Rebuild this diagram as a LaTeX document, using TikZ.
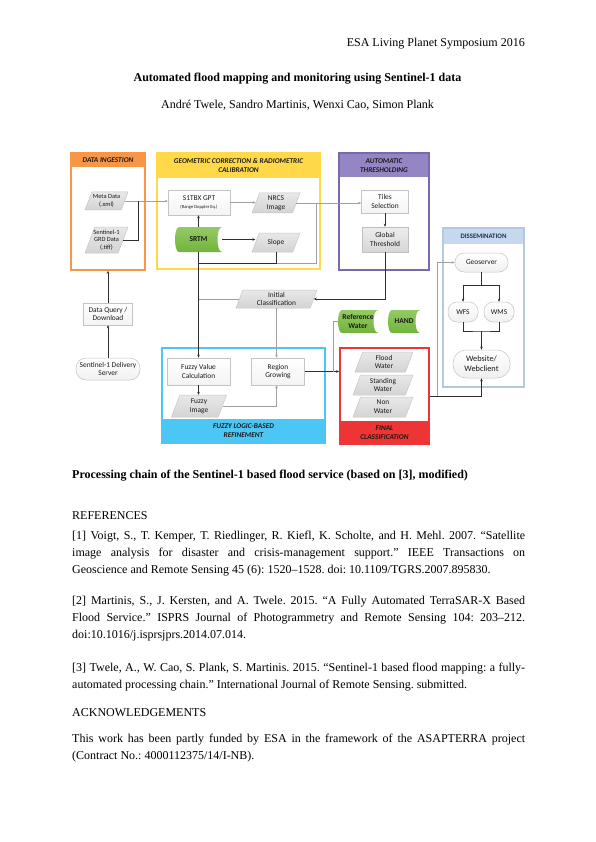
\documentclass[tikz,border=0pt]{standalone}
\usepackage{fontspec}
\setmainfont{Liberation Serif}
\newfontfamily\dfont{Carlito}
\usetikzlibrary{arrows.meta,shadows}
\frenchspacing
\definecolor{txtdark}{HTML}{1A1A1A}
\definecolor{ingcol}{HTML}{F79646}
\definecolor{geocol}{HTML}{FFD94A}
\definecolor{thrcol}{HTML}{9685C4}
\definecolor{thrbord}{HTML}{7B68AE}
\definecolor{discol}{HTML}{C5D8EE}
\definecolor{disbord}{HTML}{B4C8E2}
\definecolor{distxt}{HTML}{1F2F4A}
\definecolor{fuzcol}{HTML}{4CC6F5}
\definecolor{fincol}{HTML}{EE3535}
\definecolor{sdgreen}{HTML}{79BD3F}
\definecolor{boxgray}{HTML}{C4C4C4}
\definecolor{lngray}{HTML}{A0A0A0}
\definecolor{lndark}{HTML}{2E2E2E}
\tikzset{
  dtxt/.style={font=\dfont\fontsize{7.4}{8.8}\selectfont, text=txtdark, align=center, inner sep=0pt},
  hdrtxt/.style={font=\dfont\bfseries\itshape\fontsize{7.3}{9}\selectfont, text=txtdark, align=center, inner sep=0pt},
  procbox/.style={dtxt, draw=boxgray, line width=0.5pt, top color=white, bottom color=gray!9,
    drop shadow={shadow xshift=0.8pt, shadow yshift=-0.8pt, fill=black, opacity=0.2}},
  gbox/.style={dtxt, draw=gray!50, line width=0.5pt, top color=gray!14, bottom color=gray!32,
    drop shadow={shadow xshift=0.8pt, shadow yshift=-0.8pt, fill=black, opacity=0.2}},
  rndbox/.style={dtxt, draw=boxgray, line width=0.5pt, top color=white, bottom color=gray!12},
  parashape/.style={draw=gray!45, line width=0.5pt, top color=gray!18, bottom color=gray!34},
  sdshape/.style={top color=sdgreen!80!white, bottom color=sdgreen!95!black},
  sdbold/.style={font=\dfont\bfseries\fontsize{7.5}{8.8}\selectfont},
  ln/.style={draw=lndark, line width=0.6pt},
  lnl/.style={draw=lngray, line width=0.6pt},
  arr/.style={-{Stealth[length=3pt,width=2.6pt]}},
  ptext/.style={font=\fontsize{12}{17}\selectfont, inner sep=0pt, text=black},
  pbold/.style={font=\fontsize{12}{14}\selectfont\bfseries, inner sep=0pt, text=black},
  cont/.style={line width=1.6pt, fill=white, inner sep=0pt},
}
\newcommand\paranode[7][]{%
  \path[parashape] ({#3-#5/2+0.38*#6},{#4-#6/2}) -- ({#3+#5/2},{#4-#6/2}) -- ({#3+#5/2-0.38*#6},{#4+#6/2}) -- ({#3-#5/2},{#4+#6/2}) -- cycle;
  \node[dtxt,#1, minimum width={(#5-0.38*#6)*1pt}, minimum height={#6*1pt}] (#2) at (#3,#4) {#7};}
\newcommand\sdnode[7][]{%
  \path[sdshape] ({#3-#5/2+4},{#4-#6/2}) -- ({#3+#5/2},{#4-#6/2}) .. controls ({#3+#5/2-6},{#4-#6/2}) and ({#3+#5/2-6},{#4+#6/2}) .. ({#3+#5/2},{#4+#6/2}) -- ({#3-#5/2+4},{#4+#6/2}) .. controls ({#3-#5/2-1.3},{#4+#6/2}) and ({#3-#5/2-1.3},{#4-#6/2}) .. cycle;
  \node[dtxt,sdbold,#1, minimum width={#5*1pt}, minimum height={#6*1pt}] (#2) at (#3,#4) {#7};}
\begin{document}
\begin{tikzpicture}[x=1pt,y=-1pt]
\useasboundingbox (0,0) rectangle (595,842);
\fill[white] (0,0) rectangle (595,842);

% ---------- page text ----------
\node[ptext, anchor=base east] (hdr) at (525,47) {ESA Living Planet Symposium 2016};
\node[pbold, anchor=base] (title) at (297.5,82) {Automated flood mapping and monitoring using Sentinel-1 data};
\node[ptext, anchor=base] (auth) at (297.5,109) {André Twele, Sandro Martinis, Wenxi Cao, Simon Plank};
\node[pbold, anchor=base west] (cap) at (72,478) {Processing chain of the Sentinel-1 based flood service (based on [3], modified)};
\node[ptext, anchor=base west] (refs) at (72,519) {REFERENCES};
\node[ptext, anchor=north west, align=left] (r1) at (72,527.1) {\strut\makebox[453pt][s]{[1] Voigt, S., T. Kemper, T. Riedlinger, R. Kiefl, K. Scholte, and H. Mehl. 2007. “Satellite}\\\makebox[453pt][s]{image analysis for disaster and crisis-management support.” IEEE Transactions on}\\Geoscience and Remote Sensing 45 (6): 1520–1528. doi: 10.1109/TGRS.2007.895830.};
\node[ptext, anchor=north west, align=left] (r2) at (72,592.1) {\strut\makebox[453pt][s]{[2] Martinis, S., J. Kersten, and A. Twele. 2015. “A Fully Automated TerraSAR-X Based}\\\makebox[453pt][s]{Flood Service.” ISPRS Journal of Photogrammetry and Remote Sensing 104: 203–212.}\\doi:10.1016/j.isprsjprs.2014.07.014.};
\node[ptext, anchor=north west, align=left] (r3) at (72,659.1) {\strut\makebox[453pt][s]{[3] Twele, A., W. Cao, S. Plank, S. Martinis. 2015. “Sentinel-1 based flood mapping: a fully-}\\automated processing chain.” International Journal of Remote Sensing. submitted.};
\node[ptext, anchor=base west] (ack) at (72,716) {ACKNOWLEDGEMENTS};
\node[ptext, anchor=north west, align=left] (ackt) at (72,730.1) {\strut\makebox[453pt][s]{This work has been partly funded by ESA in the framework of the ASAPTERRA project}\\(Contract No.: 4000112375/14/I-NB).};

% ---------- containers ----------
\node[cont, draw=ingcol, minimum width=74pt, minimum height=117pt] (ingest) at (108,211.5) {};
\fill[ingcol] (71,153) rectangle (145,167);
\node[hdrtxt] (ingestH) at (108,160.5) {DATA INGESTION};

\node[cont, draw=geocol, minimum width=163pt, minimum height=116pt] (geo) at (238.5,211) {};
\fill[geocol] (157,153) rectangle (320,178);
\node[hdrtxt] (geoH) at (238.5,165.5) {GEOMETRIC CORRECTION \& RADIOMETRIC\\CALIBRATION};

\node[cont, draw=thrbord, minimum width=90pt, minimum height=117pt] (thresh) at (384,211.5) {};
\fill[thrcol] (339.8,153.8) rectangle (428.2,177);
\node[hdrtxt] (threshH) at (384,165.5) {AUTOMATIC\\THRESHOLDING};

\node[cont, draw=disbord, minimum width=81pt, minimum height=159pt] (dissem) at (483.5,307.5) {};
\fill[discol] (443.8,228.8) rectangle (523.2,244);
\node[hdrtxt, font=\dfont\bfseries\fontsize{6.8}{8}\selectfont, text=distxt] (dissemH) at (483.5,236.5) {DISSEMINATION};

\node[cont, draw=fuzcol, minimum width=163pt, minimum height=95pt] (fuzzy) at (243.5,395.5) {};
\fill[fuzcol] (162,419) rectangle (325,443);
\node[hdrtxt] (fuzzyH) at (243.5,431) {FUZZY LOGIC-BASED\\REFINEMENT};

\node[cont, draw=fincol, minimum width=89pt, minimum height=96pt] (final) at (384.5,396) {};
\fill[fincol] (340,421) rectangle (429,444);
\node[hdrtxt] (finalH) at (384.5,432.5) {FINAL\\CLASSIFICATION};

% ---------- nodes ----------
\paranode[font=\dfont\fontsize{6.4}{7.6}\selectfont]{meta}{106.5}{201}{43}{18}{Meta Data\\(.xml)}
\paranode[font=\dfont\fontsize{6.4}{7.6}\selectfont]{grd}{106.5}{240}{43}{26}{Sentinel-1\\GRD Data\\(.tiff)}
\node[procbox, minimum width=62pt, minimum height=25pt] (s1tbx) at (199,202.5) {S1TBX GPT\\[-0.5pt]{\fontsize{4.6}{5}\selectfont(Range Doppler Eq.)}};
\paranode{nrcs}{276}{203}{48}{20}{NRCS\\Image}
\sdnode{srtm}{198.5}{239.5}{47}{25}{SRTM}
\paranode{slope}{276}{242.5}{48}{19}{Slope}
\node[procbox, minimum width=47pt, minimum height=23pt] (tiles) at (385,201.5) {Tiles\\Selection};
\node[gbox, minimum width=46pt, minimum height=25pt] (global) at (385,239.5) {Global\\Threshold};
\paranode{initial}{276.5}{299}{81}{18}{Initial\\Classification}
\sdnode{refw}{358}{321.5}{40}{23}{Reference\\Water}
\sdnode{hand}{404}{321.5}{32}{23}{HAND}
\node[procbox, minimum width=63pt, minimum height=27pt] (fvc) at (198.5,371.5) {Fuzzy Value\\Calculation};
\node[procbox, minimum width=53pt, minimum height=27pt] (rg) at (278,371.5) {Region\\Growing};
\paranode{fimg}{199}{406}{55}{22}{Fuzzy\\Image}
\paranode{flood}{384}{362}{58}{20}{Flood\\Water}
\paranode{standing}{383}{385}{60}{20}{Standing\\Water}
\paranode{nonw}{383}{407}{60}{20}{Non\\Water}
\node[rndbox, rounded corners=9pt, minimum width=53pt, minimum height=19pt] (geos) at (481.5,262.5) {Geoserver};
\node[rndbox, rounded corners=9pt, minimum width=30pt, minimum height=20pt] (wfs) at (463,312) {WFS};
\node[rndbox, rounded corners=9pt, minimum width=30pt, minimum height=20pt] (wms) at (499,312) {WMS};
\node[rndbox, rounded corners=13pt, minimum width=57pt, minimum height=28pt, font=\dfont\fontsize{8.3}{9.8}\selectfont] (web) at (481.5,364) {Website/\\Webclient};
\node[procbox, minimum width=49pt, minimum height=22pt] (dq) at (108,314) {Data Query /\\Download};
\node[rndbox, rounded corners=10pt, minimum width=64pt, minimum height=22pt] (server) at (108,369) {Sentinel-1 Delivery\\Server};

% ---------- connectors ----------
\coordinate (j1) at (138,201);
\coordinate (j2) at (316,263);
\coordinate (j3) at (333,371.5);
\coordinate (j4) at (437,396);
\coordinate (j5) at (481.5,285);
\coordinate (j6) at (481.5,331);
\draw[lnl,arr] (meta.east) -- (meta.east -| s1tbx.west);
\draw[ln] (grd.east) -| (j1);
\draw[ln,arr] (srtm.north) -- (srtm.north |- s1tbx.south);
\draw[ln,arr] (srtm.east) -- (srtm.east -| slope.west);
\draw[lnl,arr] (s1tbx.east) -- (s1tbx.east -| nrcs.west);
\draw[lnl,arr] (nrcs.east) -- (nrcs.east -| tiles.west);
\draw[lnl] (nrcs.east -| j2) -- (j2) -- (slope.south |- j2);
\draw[ln] (slope.south) |- (srtm.south |- j2);
\draw[ln,arr] (srtm.south) -- (srtm.south |- fvc.north);
\draw[lnl] (initial.west) -- (initial.west -| srtm.south);
\draw[ln,arr] (tiles.south) -- (global.north);
\draw[ln,arr] (global.south) |- (initial.east);
\draw[lnl,arr] (initial.south) -- (initial.south |- rg.north);
\draw[ln,arr] (fvc.south) -- (fvc.south |- fimg.north);
\draw[lnl,arr] (fimg.east) -| (initial.south |- rg.south);
\draw[ln,arr] (rg.east) -- (rg.east -| final.west);
\draw[lnl] (refw.west) -| (j3);
\draw[ln,arr] (final.east) -| (web.south);
\draw[lnl,arr] (j4) |- (geos.west);
\draw[ln] (geos.south) -- (j5);
\draw[ln,arr] (j5) -| (wfs.north);
\draw[ln,arr] (j5) -| (wms.north);
\draw[ln] (wfs.south) |- (j6) -| (wms.south);
\draw[ln,arr] (j6) -- (web.north);
\draw[ln,arr] (server.north) -- (dq.south);
\draw[ln,arr] (dq.north) -- (ingest.south);
\end{tikzpicture}
\end{document}
